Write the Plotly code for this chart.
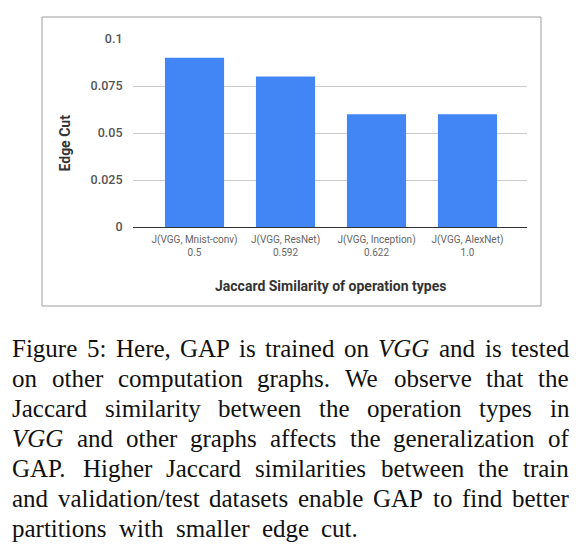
import plotly.graph_objects as go

categories = ["J(VGG, Mnist-conv)", "J(VGG, ResNet)", "J(VGG, Inception)", "J(VGG, AlexNet)"]
jaccard = ["0.5", "0.592", "0.622", "1.0"]
edge_cut = [0.09, 0.08, 0.06, 0.06]
y_ticks = [0, 0.025, 0.05, 0.075, 0.1]
y_tick_labels = ["0", "0.025", "0.05", "0.075", "0.1"]
x_title = "Jaccard Similarity of operation types"
y_title = "Edge Cut"
caption_lines = [
    "Figure 5: Here, GAP is trained on <i>VGG</i> and is tested",
    "on other computation graphs. We observe that the",
    "Jaccard similarity between the operation types in",
    "<i>VGG</i> and other graphs affects the generalization of",
    "GAP. Higher Jaccard similarities between the train",
    "and validation/test datasets enable GAP to find better",
    "partitions with smaller edge cut.",
]

OFF = 8  # page body margin
W, H = 586, 545
L, R, T, B = 133 - OFF, 527 - OFF, 39 - OFF, 227 - OFF  # plot area in pixels
pw, ph = R - L, B - T


def px(x):
    return (x - OFF - L) / pw


def py(y):
    return (B - (y - OFF)) / ph


# approximate Times/Liberation Serif advance widths (per 1000 em) for justification
TW = {' ': 250, ',': 250, '.': 250, ':': 278, '/': 278, '-': 333, '5': 500,
      'A': 722, 'G': 722, 'H': 722, 'F': 556, 'J': 389, 'P': 556, 'V': 722, 'W': 944,
      'a': 444, 'b': 500, 'c': 444, 'd': 500, 'e': 444, 'f': 333, 'g': 500, 'h': 500,
      'i': 278, 'j': 278, 'k': 500, 'l': 278, 'm': 778, 'n': 500, 'o': 500, 'p': 500,
      'q': 500, 'r': 333, 's': 389, 't': 278, 'u': 500, 'v': 500, 'w': 722, 'x': 500,
      'y': 500, 'z': 444}
TW_IT = {'V': 611, 'G': 722}


def word_width(word, size):
    w = 0
    if word.startswith("<i>"):
        core = word.replace("<i>", "").replace("</i>", "")
        for ch in core:
            w += TW_IT.get(ch, 500)
    else:
        for ch in word:
            w += TW.get(ch, 500)
    return w * size / 1000.0


CAP_SIZE = 25
CAP_LEFT, CAP_RIGHT, CAP_LAST_RIGHT = 12, 569, 358
CAP_Y0, CAP_DY = 348, 30

tick_text = [f"{c}<br>{j}" for c, j in zip(categories, jaccard)]

fig = go.Figure()
fig.add_trace(go.Bar(
    x=list(range(len(categories))),
    y=edge_cut,
    marker=dict(color="#4285F4", line=dict(width=0)),
    hoverinfo="skip",
))

fig.update_layout(
    width=W, height=H,
    margin=dict(l=L, r=W - R, t=T, b=H - B, pad=0),
    paper_bgcolor="white", plot_bgcolor="white",
    showlegend=False,
    bargap=0.35,
    font=dict(family="Roboto", color="#666"),
    xaxis=dict(
        range=[-0.676, 3.654],
        tickmode="array",
        tickvals=list(range(len(categories))),
        ticktext=tick_text,
        tickfont=dict(family="Roboto", size=10, color="#666"),
        showgrid=False, zeroline=False, showline=False,
        ticks="outside", ticklen=3, tickcolor="rgba(0,0,0,0)",
    ),
    yaxis=dict(
        range=[0, 0.1],
        tickmode="array",
        tickvals=y_ticks,
        ticktext=y_tick_labels,
        tickfont=dict(family="Roboto", size=12.5, color="#555555", weight=500),
        showgrid=True, gridcolor="#cccccc", gridwidth=1,
        zeroline=True, zerolinecolor="#333333", zerolinewidth=1,
        showline=False,
        ticks="outside", ticklen=7, tickcolor="rgba(0,0,0,0)",
    ),
)

annotations = [
    dict(text=y_title, x=px(64), y=py(143.5), xref="paper", yref="paper",
         textangle=-90, showarrow=False, xanchor="center", yanchor="middle",
         font=dict(family="Roboto", size=14, color="#333", weight="bold")),
    dict(text=x_title, x=px(330), y=py(286), xref="paper", yref="paper",
         showarrow=False, xanchor="center", yanchor="middle",
         font=dict(family="Roboto", size=14, color="#333", weight="bold")),
]

n_lines = len(caption_lines)
for i, line in enumerate(caption_lines):
    words = line.split()
    widths = [word_width(w, CAP_SIZE) for w in words]
    right = CAP_RIGHT if i < n_lines - 1 else CAP_LAST_RIGHT
    gap = (right - CAP_LEFT - sum(widths)) / (len(words) - 1)
    x = CAP_LEFT
    ypix = CAP_Y0 + CAP_DY * i
    for w, ww in zip(words, widths):
        annotations.append(dict(
            text=w, x=px(x), y=py(ypix), xref="paper", yref="paper",
            showarrow=False, xanchor="left", yanchor="middle",
            borderpad=0, borderwidth=0,
            font=dict(family="Liberation Serif", size=CAP_SIZE, color="#111"),
        ))
        x += ww + gap
fig.update_layout(annotations=annotations)

fig.add_shape(type="rect", xref="paper", yref="paper",
              x0=px(42), x1=px(541), y0=py(306), y1=py(17),
              line=dict(color="#9e9e9e", width=1), fillcolor="rgba(0,0,0,0)")

fig.write_html("out.html")
